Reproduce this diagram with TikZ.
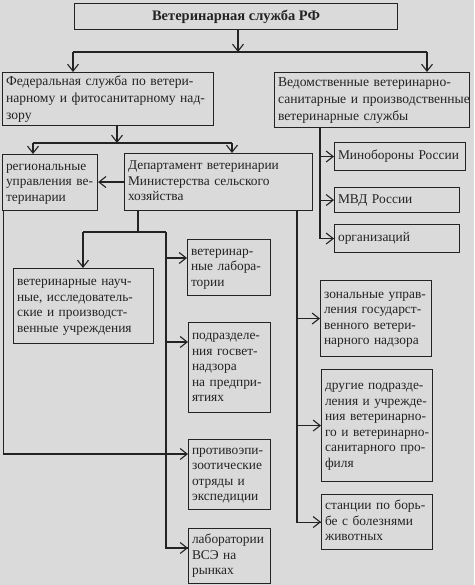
\documentclass[tikz,border=0pt]{standalone}
\usepackage{fontspec}
\setmainfont{Liberation Serif}
\usetikzlibrary{arrows.meta}
\definecolor{paper}{RGB}{218,218,218}
\definecolor{ink}{RGB}{35,35,35}
\newcommand{\boxlines}[1]{\noindent\begin{tabular}{@{}l@{}}#1\end{tabular}}
\tikzset{
  box/.style={draw=ink, line width=1.1pt, anchor=north west, inner xsep=3.5pt, inner ysep=0pt,
    align=left, font=\fontsize{13.4}{15.5}\selectfont, text=ink},
  wide/.style={font=\fontsize{13.6}{17}\selectfont},
  conn/.style={draw=ink, line width=1.1pt},
  arr/.style={conn, -{Straight Barb[length=7pt,width=11pt,line width=1.1pt]}},
}
\begin{document}
\begin{tikzpicture}[x=1pt,y=-1pt]
\fill[paper] (0,0) rectangle (474,585);
\useasboundingbox (0,0) rectangle (474,585);
% boxes
\node[draw=ink, line width=1.1pt, anchor=north west, inner sep=0pt, minimum width=323pt,
  minimum height=26pt, text=ink, font=\fontsize{14.5}{17}\selectfont\bfseries] (top) at (74,3)
  {Ветеринарная служба РФ};
\node[box, wide, minimum height=53pt, text width=204pt] (fed) at (2,72)
  {\boxlines{Федеральная служба по ветери-\\нарному и фитосанитарному над-\\зору}};
\node[box, wide, minimum height=55pt, text width=188pt] (ved) at (274,72)
  {\boxlines{Ведомственные ветеринарно-\\санитарные и производственные\\ветеринарные службы}};
\node[box, minimum height=56pt, text width=88pt] (reg) at (2,154)
  {\boxlines{региональные\\управления ве-\\теринарии}};
\node[box, minimum height=57pt, text width=181pt] (dept) at (124,153)
  {\boxlines{Департамент ветеринарии\\Министерства сельского\\хозяйства}};
\node[box, minimum height=28pt, text width=124pt] (mino) at (334,142)
  {\boxlines{Минобороны России}};
\node[box, minimum height=25pt, text width=118pt] (mvd) at (334,187)
  {\boxlines{МВД России}};
\node[box, minimum height=28pt, text width=118pt] (org) at (334,224)
  {\boxlines{организаций}};
\node[box, minimum height=56pt, text width=76pt] (vlab) at (187,239)
  {\boxlines{ветеринар-\\ные лабора-\\тории}};
\node[box, minimum height=75pt, text width=133pt] (nauch) at (13,268)
  {\boxlines{ветеринарные науч-\\ные, исследователь-\\ские и производст-\\венные учреждения}};
\node[box, minimum height=90pt, text width=75pt] (podr) at (188,322)
  {\boxlines{подразделе-\\ния госвет-\\надзора\\на предпри-\\ятиях}};
\node[box, minimum height=70pt, text width=75pt] (prot) at (188,439)
  {\boxlines{противоэпи-\\зоотические\\отряды и\\экспедиции}};
\node[box, minimum height=55pt, text width=75pt] (vse) at (188,528)
  {\boxlines{лаборатории\\ВСЭ на\\рынках}};
\node[box, minimum height=76pt, text width=104pt] (zon) at (320,280)
  {\boxlines{зональные управ-\\ления государст-\\венного ветери-\\нарного надзора}};
\node[box, minimum height=112pt, text width=104pt] (drug) at (321,369)
  {\boxlines{другие подразде-\\ления и учрежде-\\ния ветеринарно-\\го и ветеринарно-\\санитарного про-\\филя}};
\node[box, minimum height=55pt, text width=104pt] (stan) at (321,494)
  {\boxlines{станции по борь-\\бе с болезнями\\животных}};
% bus points
\coordinate (b0) at (238,52);
\coordinate (b1) at (73,52);
\coordinate (b2) at (427,52);
\coordinate (f0) at (117,143);
\coordinate (f1) at (33,143);
\coordinate (f2) at (232,143);
\coordinate (vt) at (320,127);
\coordinate (dl) at (138,232);
\coordinate (dl1) at (83,232);
\coordinate (dl2) at (166,232);
\coordinate (dr) at (297,210);
\coordinate (vlabin) at ([yshift=-19pt]vlab.north west);
\coordinate (podrin) at ([yshift=-20pt]podr.north west);
\coordinate (protin) at ([yshift=-15pt]prot.north west);
\coordinate (vsein) at ([yshift=-20pt]vse.north west);
\coordinate (regout) at ([xshift=1.5pt]reg.south west);
% connectors
\draw[arr] (top.south -| b0) -- (b0);
\draw[conn] (b1) -- (b2);
\draw[arr] (b1) -- (b1 |- fed.north);
\draw[arr] (b2) -- (b2 |- ved.north);
\draw[arr] (fed.south -| f0) -- (f0);
\draw[conn] (f1) -- (f2);
\draw[arr] (f1) -- (f1 |- reg.north);
\draw[arr] (f2) -- (f2 |- dept.north);
\draw[arr] (dept.west) -- (reg.east |- dept.west);
\draw[conn] (vt) |- (org.west);
\draw[arr] (vt |- mino.west) -- (mino.west);
\draw[arr] (vt |- mvd.west) -- (mvd.west);
\draw[arr] (vt |- org.west) -- (org.west);
\draw[conn] (dept.south -| dl) -- (dl);
\draw[conn] (dl1) -- (dl2);
\draw[arr] (dl1) -- (dl1 |- nauch.north);
\draw[conn] (dl2) |- (vsein);
\draw[arr] (dl2 |- vlabin) -- (vlabin);
\draw[arr] (dl2 |- podrin) -- (podrin);
\draw[arr] (dl2 |- vsein) -- (vsein);
\draw[arr] (regout) |- (protin);
\draw[conn] (dr) |- (stan.west);
\draw[arr] (dr |- zon.west) -- (zon.west);
\draw[arr] (dr |- drug.west) -- (drug.west);
\draw[arr] (dr |- stan.west) -- (stan.west);
\end{tikzpicture}
\end{document}
